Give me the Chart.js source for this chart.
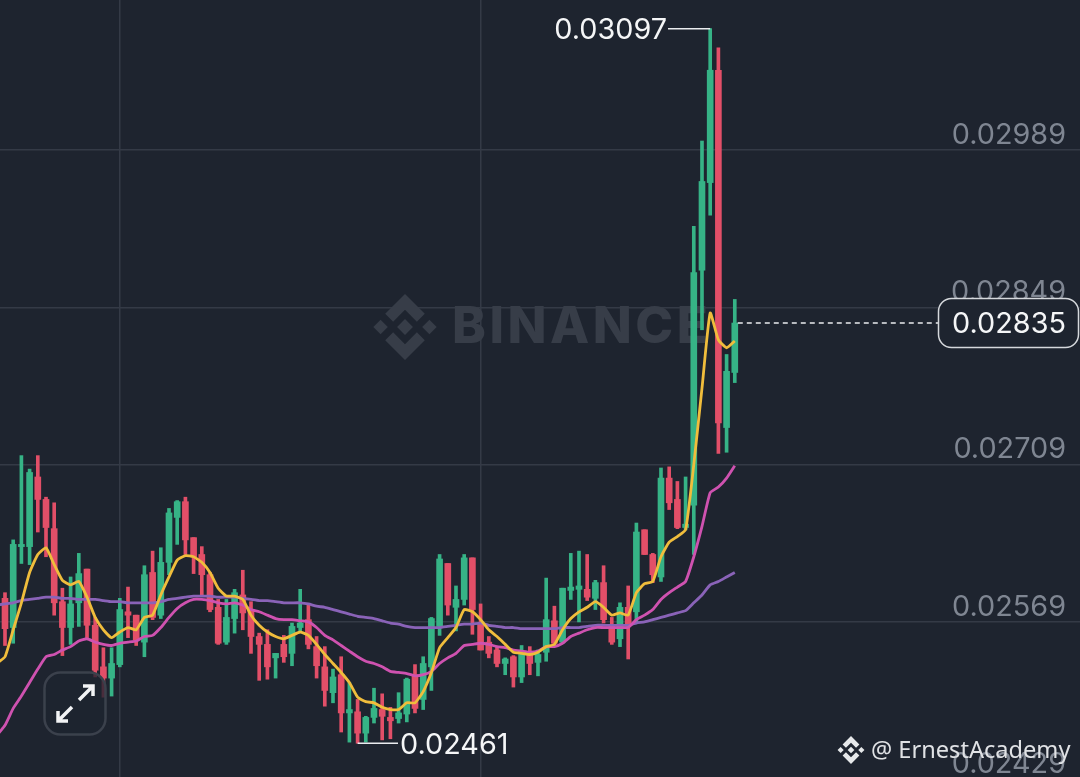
<!DOCTYPE html>
<html>
<head>
<meta charset="utf-8">
<title>Binance chart</title>
<script src="https://cdn.jsdelivr.net/npm/chart.js@4"></script>
<style>
  html, body { margin: 0; padding: 0; background: #1e242f; overflow: hidden; }
  #wrap { width: 1080px; height: 777px; overflow: hidden; }
  canvas { display: block; }
</style>
</head>
<body>
<div id="wrap"><canvas id="chart" width="1080" height="790"></canvas></div>
<script>
// candles
const opens = [
  0.02590,0.02564,0.02636,0.02636,0.02698,0.02678,0.02652,0.02587,0.02564,0.02586,
  0.02616,0.02566,0.02529,0.02519,0.02531,0.02578,0.02575,0.02551,0.02613,0.02575,
  0.02622,0.02662,0.02676,0.02644,0.02629,0.02611,0.02582,0.02551,0.02572,0.02593,
  0.02580,0.02556,0.02549,0.02537,0.02549,0.02541,0.02564,0.02571,0.02547,0.02529,
  0.02506,0.02522,0.02488,0.02489,0.02470,0.02484,0.02491,0.02484,0.02483,0.02487,
  0.02522,0.02500,0.02529,0.02565,0.02621,0.02582,0.02589,0.02626,0.02568,0.02551,
  0.02544,0.02532,0.02538,0.02520,0.02540,0.02533,0.02542,0.02570,0.02551,0.02597,
  0.02598,0.02598,0.02590,0.02604,0.02566,0.02554,0.02582,0.02578,0.02651,0.02629,
  0.02609,0.02697,0.02678,0.02653,0.02673,0.02882,0.02960,0.03060,0.02742,0.02791
];
const highs = [
  0.02595,0.02642,0.02717,0.02705,0.02717,0.02680,0.02675,0.02599,0.02609,0.02630,
  0.02616,0.02573,0.02546,0.02546,0.02590,0.02600,0.02575,0.02619,0.02632,0.02635,
  0.02670,0.02677,0.02680,0.02644,0.02636,0.02613,0.02589,0.02589,0.02598,0.02615,
  0.02587,0.02559,0.02562,0.02541,0.02557,0.02568,0.02598,0.02584,0.02556,0.02547,
  0.02527,0.02538,0.02515,0.02500,0.02485,0.02510,0.02505,0.02493,0.02506,0.02519,
  0.02531,0.02538,0.02573,0.02629,0.02621,0.02601,0.02629,0.02626,0.02585,0.02556,
  0.02547,0.02537,0.02539,0.02548,0.02547,0.02544,0.02608,0.02583,0.02599,0.02630,
  0.02632,0.02629,0.02606,0.02619,0.02573,0.02586,0.02601,0.02657,0.02651,0.02630,
  0.02706,0.02707,0.02694,0.02698,0.02921,0.02997,0.03097,0.03080,0.02807,0.02856
];
const lows = [
  0.02548,0.02550,0.02621,0.02620,0.02649,0.02627,0.02575,0.02539,0.02549,0.02565,
  0.02555,0.02520,0.02502,0.02503,0.02529,0.02555,0.02548,0.02538,0.02571,0.02572,
  0.02611,0.02638,0.02629,0.02612,0.02593,0.02578,0.02549,0.02549,0.02559,0.02562,
  0.02541,0.02517,0.02518,0.02519,0.02533,0.02530,0.02561,0.02545,0.02519,0.02494,
  0.02497,0.02471,0.02462,0.02461,0.02462,0.02479,0.02464,0.02465,0.02479,0.02480,
  0.02488,0.02491,0.02508,0.02557,0.02575,0.02561,0.02584,0.02558,0.02544,0.02537,
  0.02529,0.02522,0.02511,0.02515,0.02522,0.02521,0.02534,0.02547,0.02550,0.02589,
  0.02569,0.02588,0.02580,0.02568,0.02549,0.02547,0.02536,0.02568,0.02629,0.02604,
  0.02605,0.02669,0.02652,0.02651,0.02629,0.02829,0.02931,0.02719,0.02720,0.02782
];
const closes = [
  0.02563,0.02638,0.02638,0.02702,0.02678,0.02653,0.02586,0.02564,0.02585,0.02612,
  0.02566,0.02526,0.02519,0.02532,0.02580,0.02575,0.02553,0.02611,0.02573,0.02622,
  0.02666,0.02676,0.02642,0.02627,0.02611,0.02580,0.02550,0.02573,0.02595,0.02577,
  0.02556,0.02549,0.02529,0.02541,0.02538,0.02565,0.02568,0.02549,0.02530,0.02508,
  0.02520,0.02488,0.02491,0.02470,0.02484,0.02492,0.02485,0.02481,0.02488,0.02518,
  0.02492,0.02532,0.02572,0.02625,0.02584,0.02589,0.02626,0.02580,0.02544,0.02541,
  0.02532,0.02536,0.02520,0.02540,0.02532,0.02540,0.02571,0.02550,0.02599,0.02600,
  0.02601,0.02591,0.02604,0.02571,0.02551,0.02582,0.02566,0.02649,0.02629,0.02611,
  0.02697,0.02675,0.02653,0.02656,0.02880,0.02961,0.03060,0.02746,0.02792,0.02835
];
// moving averages, each starts one bar before the first whole candle
const maYellow = [
  0.02532,
  0.02538,0.02562,0.02586,0.02613,0.02629,0.02635,0.02620,0.02606,0.02602,0.02605,
  0.02591,0.02573,0.02562,0.02555,0.02560,0.02564,0.02562,0.02573,0.02575,0.02593,
  0.02609,0.02624,0.02628,0.02627,0.02622,0.02613,0.02599,0.02592,0.02592,0.02589,
  0.02575,0.02566,0.02560,0.02556,0.02554,0.02557,0.02560,0.02557,0.02549,0.02540,
  0.02532,0.02524,0.02515,0.02502,0.02498,0.02497,0.02493,0.02491,0.02491,0.02497,
  0.02497,0.02507,0.02524,0.02546,0.02555,0.02564,0.02580,0.02578,0.02571,0.02562,
  0.02556,0.02549,0.02542,0.02541,0.02540,0.02542,0.02547,0.02549,0.02562,0.02572,
  0.02578,0.02582,0.02587,0.02582,0.02575,0.02577,0.02575,0.02595,0.02603,0.02605,
  0.02627,0.02640,0.02645,0.02651,0.02709,0.02777,0.02844,0.02820,0.02813,0.02819
];
const maPink = [
  0.02468,
  0.02477,0.02492,0.02503,0.02515,0.02527,0.02538,0.02540,0.02544,0.02547,0.02552,
  0.02554,0.02551,0.02549,0.02548,0.02550,0.02551,0.02552,0.02556,0.02557,0.02564,
  0.02573,0.02581,0.02586,0.02589,0.02589,0.02588,0.02586,0.02585,0.02586,0.02584,
  0.02580,0.02578,0.02575,0.02572,0.02571,0.02571,0.02570,0.02569,0.02564,0.02557,
  0.02553,0.02548,0.02543,0.02538,0.02534,0.02532,0.02529,0.02525,0.02524,0.02523,
  0.02521,0.02522,0.02525,0.02532,0.02537,0.02541,0.02548,0.02549,0.02550,0.02549,
  0.02547,0.02546,0.02544,0.02543,0.02542,0.02543,0.02547,0.02547,0.02550,0.02556,
  0.02559,0.02562,0.02564,0.02564,0.02564,0.02564,0.02564,0.02571,0.02575,0.02580,
  0.02589,0.02595,0.02600,0.02605,0.02627,0.02654,0.02684,0.02689,0.02697,0.02708
];
const maPurple = [
  0.02584,
  0.02585,0.02586,0.02588,0.02589,0.02590,0.02591,0.02591,0.02590,0.02590,0.02589,
  0.02589,0.02589,0.02588,0.02587,0.02587,0.02586,0.02586,0.02586,0.02586,0.02587,
  0.02589,0.02590,0.02591,0.02592,0.02592,0.02592,0.02591,0.02591,0.02591,0.02590,
  0.02589,0.02588,0.02588,0.02587,0.02586,0.02586,0.02586,0.02585,0.02583,0.02582,
  0.02580,0.02578,0.02576,0.02574,0.02573,0.02572,0.02570,0.02568,0.02567,0.02565,
  0.02564,0.02564,0.02564,0.02564,0.02565,0.02566,0.02567,0.02567,0.02568,0.02566,
  0.02565,0.02564,0.02564,0.02563,0.02563,0.02563,0.02563,0.02563,0.02564,0.02564,
  0.02564,0.02565,0.02566,0.02566,0.02566,0.02566,0.02566,0.02568,0.02569,0.02571,
  0.02573,0.02575,0.02577,0.02579,0.02586,0.02593,0.02602,0.02605,0.02609,0.02613
];
const priceTicks = [0.02989, 0.02849, 0.02709, 0.02569, 0.02429];
const timeGrid = [14, 58];

const bg = '#1e242f';
const green = '#36b386';
const red = '#e24f68';
const numFont = '28.8px Inter';

const idx = opens.map((_, i) => i);
const candleColors = idx.map(i => closes[i] >= opens[i] ? green : red);
const toLine = arr => arr.map((v, i) => ({ x: i - 1, y: v }));

function maLine(values, color) {
  return {
    type: 'line', data: toLine(values), borderColor: color, borderWidth: 2.8,
    pointRadius: 0, tension: 0.15, order: 1
  };
}

// no room reserved for the axes, labels sit inside the plot
function noMargins(axis) {
  axis.paddingTop = axis.paddingBottom = axis.paddingLeft = axis.paddingRight = 0;
  if (axis.isHorizontal()) axis.height = 0; else axis.width = 0;
}

// binance logo, unit size around cx,cy
function logo(ctx, cx, cy, s, color) {
  const polys = [
    [[0, -0.24], [0.24, 0], [0, 0.24], [-0.24, 0]],
    [[-0.74, -0.22], [-0.52, 0], [-0.74, 0.22], [-0.96, 0]],
    [[0.74, -0.22], [0.96, 0], [0.74, 0.22], [0.52, 0]],
    [[0, -1], [0.6, -0.4], [0.36, -0.16], [0, -0.52], [-0.36, -0.16], [-0.6, -0.4]],
    [[0, 1], [0.6, 0.4], [0.36, 0.16], [0, 0.52], [-0.36, 0.16], [-0.6, 0.4]]
  ];
  ctx.fillStyle = color;
  polys.forEach(p => {
    ctx.beginPath();
    p.forEach((q, i) => ctx[i ? 'lineTo' : 'moveTo'](cx + q[0] * s, cy + q[1] * s));
    ctx.closePath();
    ctx.fill();
  });
}

function arrow(ctx, tx, ty, fx, fy, a, b) {
  ctx.beginPath();
  ctx.moveTo(fx, fy);
  ctx.lineTo(tx, ty);
  ctx.moveTo(a[0], a[1]);
  ctx.lineTo(tx, ty);
  ctx.lineTo(b[0], b[1]);
  ctx.stroke();
}

// watermark goes under the candles
const watermark = {
  id: 'watermark',
  beforeDatasetsDraw(chart) {
    const ctx = chart.ctx;
    ctx.save();
    logo(ctx, 405, 327, 33, '#373d48');
    ctx.fillStyle = '#373d48';
    ctx.font = '800 51px Inter';
    ctx.textAlign = 'left';
    ctx.textBaseline = 'middle';
    ctx.letterSpacing = '3.5px';
    ctx.fillText('BINANCE', 452, 328);
    ctx.restore();
  }
};

// high / low marks, price line, button, credit
const overlay = {
  id: 'overlay',
  afterDatasetsDraw(chart) {
    const ctx = chart.ctx;
    const xs = chart.scales.x, ys = chart.scales.y;
    const hi = Math.max(...highs), lo = Math.min(...lows);
    const hiX = xs.getPixelForValue(highs.indexOf(hi)), hiY = ys.getPixelForValue(hi);
    const loX = xs.getPixelForValue(lows.indexOf(lo)), loY = ys.getPixelForValue(lo);
    const last = closes[closes.length - 1];
    const lastY = ys.getPixelForValue(last);
    const lastX = xs.getPixelForValue(closes.length - 1);

    ctx.save();
    ctx.font = numFont;
    ctx.textBaseline = 'middle';
    ctx.strokeStyle = '#eaecef';
    ctx.fillStyle = '#f5f6f7';
    ctx.lineWidth = 1.5;

    ctx.beginPath();
    ctx.moveTo(668, hiY);
    ctx.lineTo(hiX, hiY);
    ctx.stroke();
    ctx.textAlign = 'right';
    ctx.fillText(hi.toFixed(5), 667, hiY + 2);

    ctx.beginPath();
    ctx.moveTo(loX, loY);
    ctx.lineTo(398, loY);
    ctx.stroke();
    ctx.textAlign = 'left';
    ctx.fillText(lo.toFixed(5), 400, loY + 2);

    ctx.setLineDash([5, 4]);
    ctx.beginPath();
    ctx.moveTo(lastX + 3, lastY);
    ctx.lineTo(938, lastY);
    ctx.stroke();
    ctx.setLineDash([]);

    ctx.beginPath();
    ctx.roundRect(938.5, 298.5, 140, 49, 13);
    ctx.fillStyle = bg;
    ctx.fill();
    ctx.strokeStyle = '#d5d8dc';
    ctx.stroke();
    ctx.fillStyle = '#f5f6f7';
    ctx.textAlign = 'center';
    ctx.fillText(last.toFixed(5), 1009, lastY + 1);

    // expand button
    ctx.beginPath();
    ctx.roundRect(44.5, 672.5, 61, 62, 16);
    ctx.fillStyle = 'rgba(30,36,47,0.78)';
    ctx.fill();
    ctx.strokeStyle = '#3b414c';
    ctx.lineWidth = 2.5;
    ctx.stroke();
    ctx.strokeStyle = '#f2f3f5';
    ctx.lineWidth = 3.5;
    arrow(ctx, 93, 686, 79, 700, [83, 686], [93, 696]);
    arrow(ctx, 58, 721, 72, 707, [58, 711], [68, 721]);

    // credit
    logo(ctx, 851, 750, 14, '#e6e8ea');
    ctx.font = '23.6px "Noto Sans"';
    ctx.fillStyle = '#e0e2e5';
    ctx.textAlign = 'left';
    ctx.fillText('@ ErnestAcademy', 871, 751);
    ctx.restore();
  }
};

const chart = new Chart(document.getElementById('chart').getContext('2d'), {
  data: {
    datasets: [
      maLine(maYellow, '#f0bd3c'),
      maLine(maPink, '#cf52b0'),
      maLine(maPurple, '#8a63b8'),
      {
        type: 'bar', grouped: false, barThickness: 6, order: 2,
        data: idx.map(i => ({ x: i, y: [opens[i], closes[i]] })),
        backgroundColor: candleColors
      },
      {
        type: 'bar', grouped: false, barThickness: 3, order: 3,
        data: idx.map(i => ({ x: i, y: [lows[i], highs[i]] })),
        backgroundColor: candleColors
      }
    ]
  },
  options: {
    responsive: false,
    animation: false,
    layout: { padding: 0 },
    plugins: { legend: { display: false }, tooltip: { enabled: false } },
    scales: {
      x: {
        type: 'linear', offset: false,
        min: -0.61, max: 131.1,
        afterBuildTicks: axis => { axis.ticks = timeGrid.map(v => ({ value: v })); },
        afterFit: noMargins,
        grid: { color: '#343a46', lineWidth: 1.5, drawTicks: false, offset: false },
        border: { display: false },
        ticks: { display: false }
      },
      y: {
        position: 'right',
        min: 0.024194, max: 0.031225,
        afterBuildTicks: axis => { axis.ticks = priceTicks.map(v => ({ value: v })); },
        afterFit: noMargins,
        grid: { color: '#343a46', lineWidth: 1.5, drawTicks: false },
        border: { display: false },
        ticks: {
          mirror: true, padding: -14, labelOffset: -15,
          color: '#7f8692', font: { family: 'Inter', size: 28.8 },
          callback: v => v.toFixed(5)
        }
      }
    }
  },
  plugins: [watermark, overlay]
});
</script>
</body>
</html>
